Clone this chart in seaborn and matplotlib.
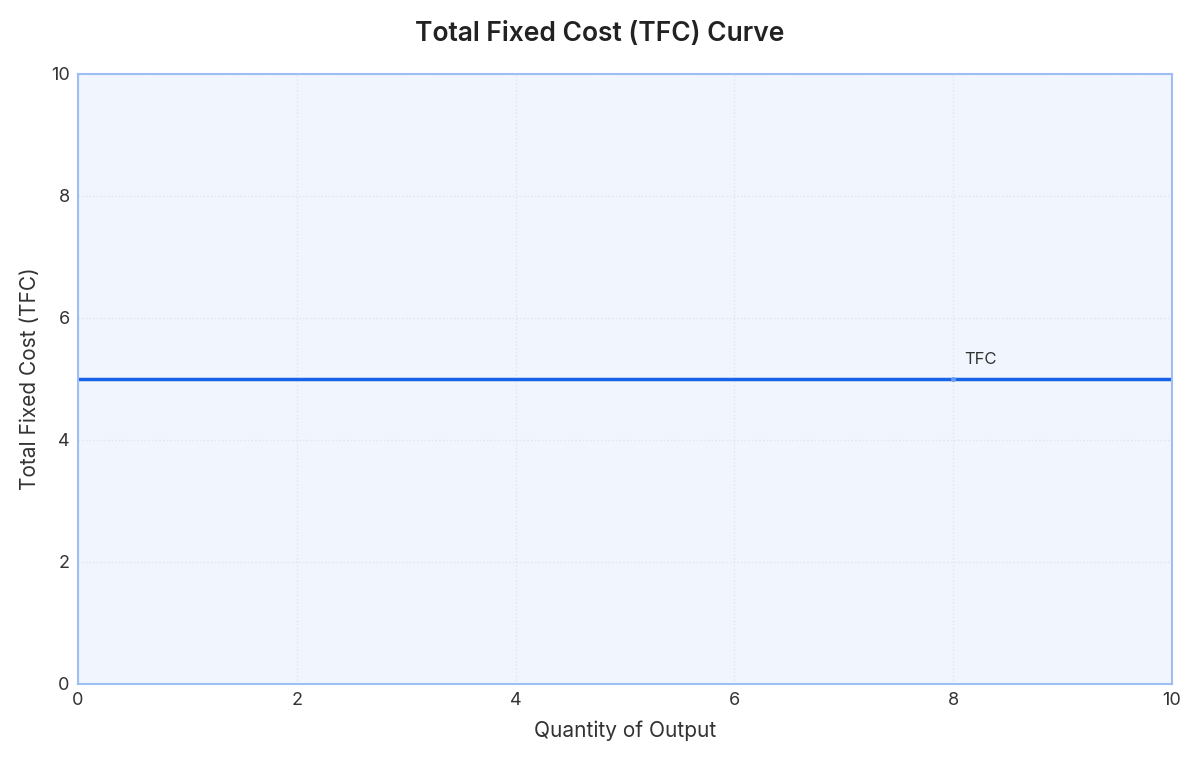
import matplotlib
matplotlib.use("Agg")
import matplotlib.pyplot as plt
import seaborn as sns
import pandas as pd

quantity = [0, 2, 4, 6, 8, 10]
tfc = [5, 5, 5, 5, 5, 5]
label_point = (8, 5)
label_text = "TFC"

sns.set_theme(style="white")
plt.rcParams['font.family'] = ['Inter', 'DejaVu Sans']

df = pd.DataFrame({"q": quantity, "tfc": tfc})

fig = plt.figure(figsize=(12, 7.61), dpi=100)
ax = fig.add_axes([78/1200, 1 - 684/761, (1172-78)/1200, (684-74)/761])
ax.set_facecolor("#f1f6fe")

sns.lineplot(data=df, x="q", y="tfc", ax=ax, color="#1463e8", linewidth=2.5)
ax.plot([label_point[0]], [label_point[1]], marker="o", markersize=2.5, color="#6a9cf0", zorder=3)
ax.text(label_point[0] + 0.1, label_point[1] + 0.25, label_text, fontsize=12, color="#333333")

ax.set_xlim(0, 10)
ax.set_ylim(0, 10)
ax.set_xticks([0, 2, 4, 6, 8, 10])
ax.set_yticks([0, 2, 4, 6, 8, 10])
ax.tick_params(axis="both", length=0, labelsize=13, colors="#333333", pad=6)
ax.grid(True, linestyle=":", color="#dde5f0", linewidth=1)
for s in ax.spines.values():
    s.set_color("#9dbff5")
    s.set_linewidth(1.5)

ax.set_xlabel("Quantity of Output", fontsize=15, color="#333333", labelpad=8)
ax.set_ylabel("Total Fixed Cost (TFC)", fontsize=15, color="#333333", labelpad=8)
fig.suptitle("Total Fixed Cost (TFC) Curve", fontsize=19, fontweight="semibold", color="#222222", y=0.972)

fig.savefig("out.png", dpi=100)
